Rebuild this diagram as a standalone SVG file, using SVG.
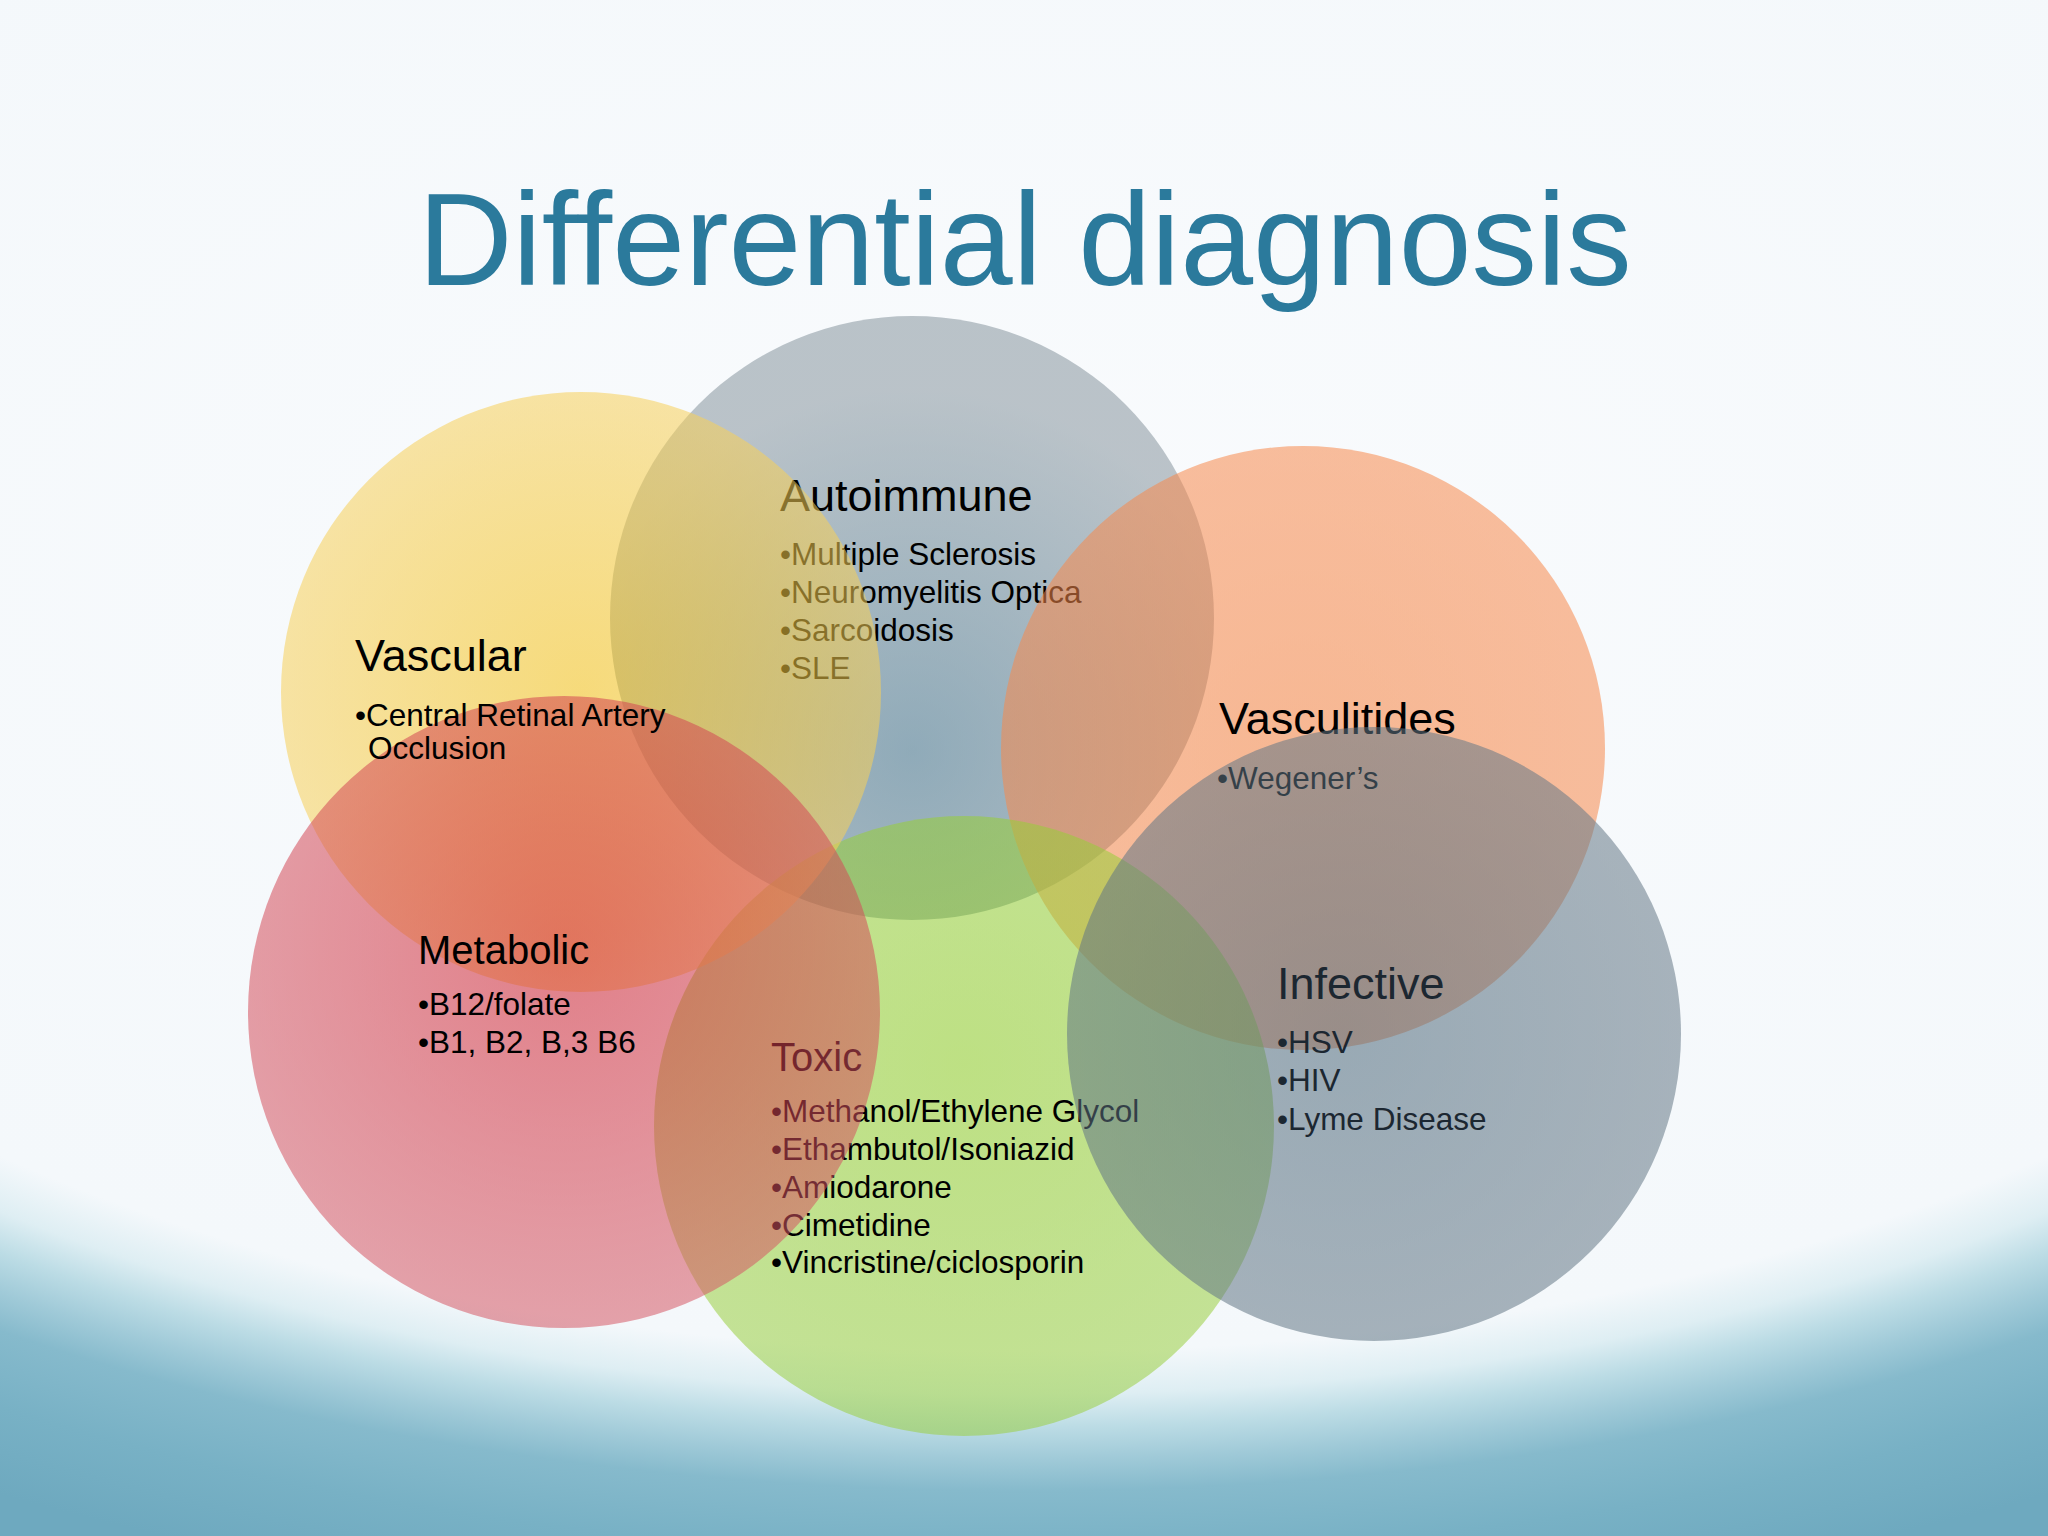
<svg xmlns="http://www.w3.org/2000/svg" width="2048" height="1536" viewBox="0 0 2048 1536">
<defs>
<radialGradient id="bg" gradientUnits="userSpaceOnUse" cx="1024" cy="560" r="1070" gradientTransform="translate(1024 560) scale(1.963 1) translate(-1024 -560)">
<stop offset="0" stop-color="#f9fbfd"/>
<stop offset="0.74" stop-color="#f4f8fb"/>
<stop offset="0.78" stop-color="#deeef3"/>
<stop offset="0.81" stop-color="#bcdce5"/>
<stop offset="0.84" stop-color="#a0cad8"/>
<stop offset="0.87" stop-color="#86bacc"/>
<stop offset="0.93" stop-color="#78b1c5"/>
<stop offset="1" stop-color="#6ea9bf"/>
</radialGradient>
<radialGradient id="gYel" cx="0.5" cy="0.5" r="0.55"><stop offset="0" stop-color="#f5c010"/><stop offset="1" stop-color="#f7d160"/></radialGradient>
<radialGradient id="gAuto" cx="0.5" cy="0.72" r="0.6"><stop offset="0" stop-color="#3a6981"/><stop offset="1" stop-color="#87959e"/></radialGradient>
<radialGradient id="gPeach" cx="0.5" cy="0.5" r="0.55"><stop offset="0" stop-color="#f6803c"/><stop offset="1" stop-color="#f78a4e"/></radialGradient>
<radialGradient id="gRed" cx="0.5" cy="0.4" r="0.6"><stop offset="0" stop-color="#cf1b2a"/><stop offset="1" stop-color="#d55966"/></radialGradient>
<radialGradient id="gGreen" cx="0.5" cy="0.4" r="0.6"><stop offset="0" stop-color="#8fcc20"/><stop offset="1" stop-color="#9bcf43"/></radialGradient>
<radialGradient id="gGrey" cx="0.45" cy="0.5" r="0.6"><stop offset="0" stop-color="#4c687a"/><stop offset="1" stop-color="#687a88"/></radialGradient>
</defs>
<style>
.c{fill-opacity:0.55}
.h{font-family:"Liberation Sans",Arial,sans-serif;font-size:45px;fill:#000}
.hs{font-family:"Liberation Sans",Arial,sans-serif;font-size:40px;fill:#000}
.b{font-family:"Liberation Sans",Arial,sans-serif;font-size:31.5px;fill:#000}
.title{font-family:"Liberation Sans",Arial,sans-serif;font-size:131px;fill:#2b7a9c}
.dk{fill:#1c2731}
</style>
<rect x="0" y="0" width="2048" height="1536" fill="url(#bg)"/>
<text class="title" x="418" y="285">Differential diagnosis</text>

<g id="autoimmune">
<circle class="c" cx="912" cy="618" r="302" fill="url(#gAuto)"/>
<text class="h" x="780" y="511">Autoimmune</text>
<text class="b" x="780" y="565">•Multiple Sclerosis</text>
<text class="b" x="780" y="603">•Neuromyelitis Optica</text>
<text class="b" x="780" y="641">•Sarcoidosis</text>
<text class="b" x="780" y="679">•SLE</text>
</g>
<g id="vasculitides">
<circle class="c" cx="1303" cy="748" r="302" fill="url(#gPeach)"/>
<text class="h" x="1219" y="734">Vasculitides</text>
<text class="b" x="1217" y="789">•Wegener’s</text>
</g>
<g id="toxic">
<circle class="c" cx="964" cy="1126" r="310" fill="url(#gGreen)"/>
<text class="hs" x="771" y="1071">Toxic</text>
<text class="b" x="771" y="1122">•Methanol/Ethylene Glycol</text>
<text class="b" x="771" y="1160">•Ethambutol/Isoniazid</text>
<text class="b" x="771" y="1198">•Amiodarone</text>
<text class="b" x="771" y="1236">•Cimetidine</text>
<text class="b" x="771" y="1273">•Vincristine/ciclosporin</text>
</g>
<g id="vascular">
<circle class="c" cx="581" cy="692" r="300" fill="url(#gYel)"/>
</g>
<g id="metabolic">
<circle class="c" cx="564" cy="1012" r="316" fill="url(#gRed)"/>
</g>
<g id="infective">
<circle class="c" cx="1374" cy="1034" r="307" fill="url(#gGrey)"/>
<text class="h dk" x="1277" y="999">Infective</text>
<text class="b dk" x="1277" y="1053">•HSV</text>
<text class="b dk" x="1277" y="1091">•HIV</text>
<text class="b dk" x="1277" y="1130">•Lyme Disease</text>
</g>
<g id="vascular-label">
<text class="h" x="355" y="671">Vascular</text>
<text class="b" x="355" y="726">•Central Retinal Artery</text>
<text class="b" x="368" y="759">Occlusion</text>
</g>
<g id="metabolic-label">
<text class="hs" x="418" y="964">Metabolic</text>
<text class="b" x="418" y="1015">•B12/folate</text>
<text class="b" x="418" y="1053">•B1, B2, B,3 B6</text>
</g>
<g id="connectors"></g>
</svg>
